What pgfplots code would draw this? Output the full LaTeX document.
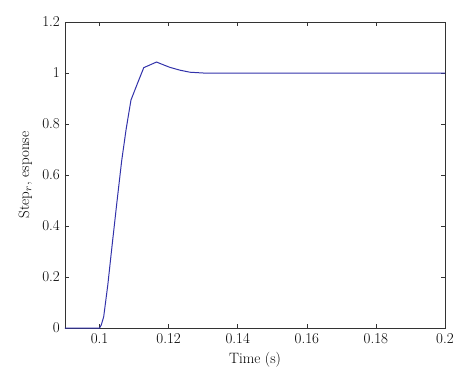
\documentclass[border=0pt]{standalone}
\usepackage{fontspec}
\setmainfont{Latin Modern Roman}
\usepackage{pgfplots}
\pgfplotsset{compat=1.18}
\definecolor{lineblue}{RGB}{50,50,170}
\begin{document}
\fontsize{15}{17}\selectfont
\begin{tikzpicture}
\path[use as bounding box] (-65pt,-61pt) rectangle (409pt,328pt);
\begin{axis}[
  at={(0pt,0pt)}, anchor=origin,
  scale only axis, width=380pt, height=306pt,
  xmin=0.09, xmax=0.2, ymin=0, ymax=1.2,
  xtick={0.1,0.12,0.14,0.16,0.18,0.2},
  ytick={0,0.2,0.4,0.6,0.8,1,1.2},
  xticklabels={0.1,0.12,0.14,0.16,0.18,0.2},
  yticklabels={0,0.2,0.4,0.6,0.8,1,1.2},
  /pgf/number format/assume math mode=true,
  tick align=inside, tick pos=both,
  major tick length=4pt,
  axis line style={black!80, line width=0.6pt},
  tick style={black!80, line width=0.5pt},
  xlabel={Time (s)}, ylabel={Step$_r$, esponse},
  ticklabel style={font=\fontsize{15}{17}\selectfont},
  label style={font=\fontsize{15}{17}\selectfont},
  xlabel style={yshift=1pt},
  ylabel style={yshift=0pt},
]
\addplot[lineblue, line width=1pt] coordinates {
(0.09,0) (0.1,0) (0.1005,0.012) (0.1012,0.044) (0.1024,0.17) (0.1036,0.32)
(0.1050,0.49) (0.1064,0.655) (0.1077,0.78) (0.1091,0.894) (0.1110,0.96)
(0.1128,1.021) (0.1165,1.043) (0.1185,1.032) (0.1204,1.022) (0.1233,1.011)
(0.1262,1.003) (0.1300,1.0) (0.2,1.0)
};
\end{axis}
\end{tikzpicture}
\end{document}
